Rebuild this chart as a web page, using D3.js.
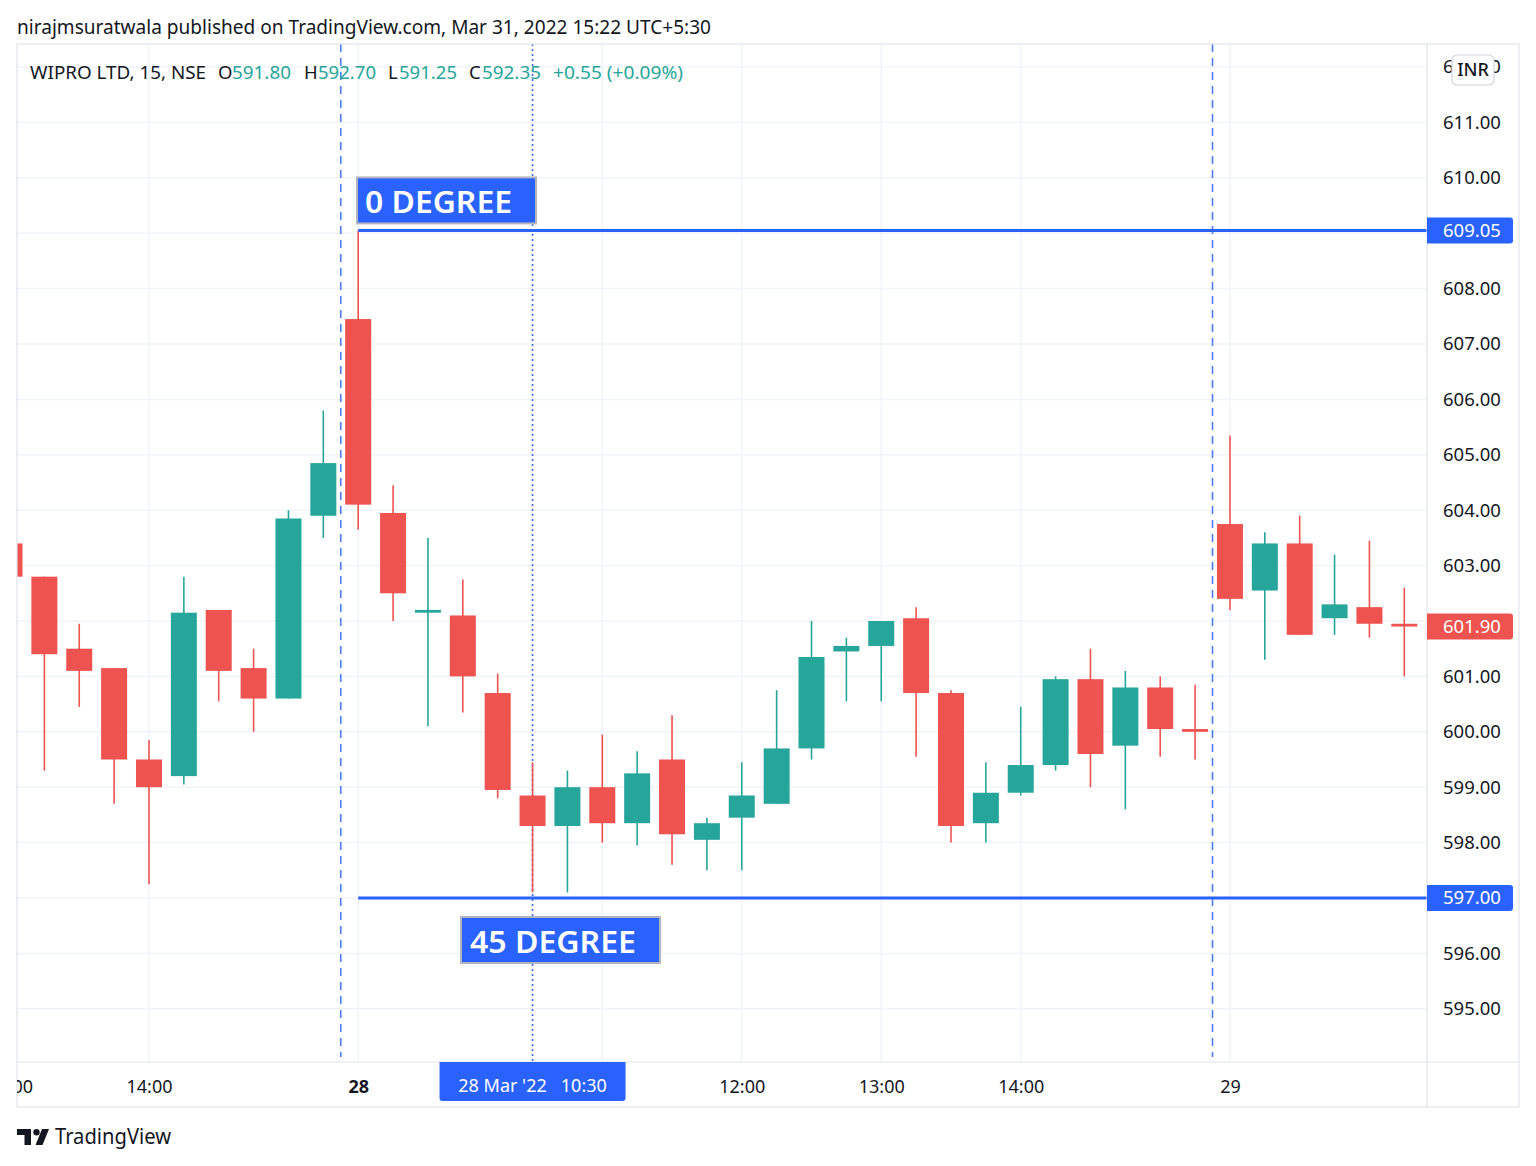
<!DOCTYPE html>
<html><head><meta charset="utf-8">
<script src="https://cdn.jsdelivr.net/npm/d3@7"></script>
<style>
body{margin:0;background:#fff;}
svg{display:block;font-family:"Noto Sans",sans-serif;}
</style>
</head><body>
<svg id="c" width="1536" height="1166"></svg>
<script>
// ---------- data ----------
const candleTimes = ["25 13:00","13:15","13:30","13:45","14:00","14:15","14:30","14:45","15:00","15:15",
 "28 09:15","09:30","09:45","10:00","10:15","10:30","10:45","11:00","11:15","11:30","11:45","12:00","12:15","12:30","12:45",
 "13:00","13:15","13:30","13:45","14:00","14:15","14:30","14:45","15:00","15:15",
 "29 09:15","09:30","09:45","10:00","10:15","10:30"];
const opens  = [603.40,602.80,601.50,601.15,599.50,599.20,602.20,601.15,600.60,603.90,
 607.45,603.95,602.15,602.10,600.70,598.85,598.30,599.00,598.35,599.50,598.05,598.45,598.70,599.70,601.45,
 601.55,602.05,600.70,598.35,598.90,599.40,600.95,599.75,600.80,600.05,
 603.75,602.55,603.40,602.05,602.25,601.95];
const highs  = [603.40,602.80,601.95,601.15,599.85,602.80,602.20,601.50,604.00,605.80,
 609.05,604.45,603.50,602.75,601.05,599.45,599.30,599.95,599.65,600.30,598.45,599.45,600.75,602.00,601.70,
 602.00,602.25,600.75,599.45,600.45,601.00,601.50,601.10,601.00,600.85,
 605.35,603.60,603.90,603.20,603.45,602.60];
const lows   = [602.80,599.30,600.45,598.70,597.25,599.05,600.55,600.00,600.60,603.50,
 603.65,602.00,600.10,600.35,598.80,597.10,597.10,598.00,597.95,597.60,597.50,597.50,598.70,599.50,600.55,
 600.55,599.55,598.00,598.00,598.85,599.30,599.00,598.60,599.55,599.50,
 602.20,601.30,601.75,601.75,601.70,601.00];
const closes = [602.80,601.40,601.10,599.50,599.00,602.15,601.10,600.60,603.85,604.85,
 604.10,602.50,602.20,601.00,598.95,598.30,599.00,598.35,599.25,598.15,598.35,598.85,599.70,601.35,601.55,
 602.00,600.70,598.30,598.90,599.40,600.95,599.60,600.80,600.05,600.00,
 602.40,603.40,601.75,602.30,601.95,601.90];
const gridPrices = [595,596,597,598,599,600,601,602,603,604,605,606,607,608,609,610,611,612];
const priceTicks = [595,596,597,598,599,600,601,603,604,605,606,607,608,610,611,612];
const gridTimeIdx    = [0, 4, 10, 17, 21, 25, 29, 35];
const timeTickIdx    = [0, 4, 10, 21, 25, 29, 35];
const timeTickLabels = ["13:00","14:00","28","12:00","13:00","14:00","29"];
const levelPrices = [609.05, 597.00];
const levelLabels = ["0 DEGREE", "45 DEGREE"];
const lastPrice = 601.90;
const crosshairIdx = 15;
const crosshairLabel = "28 Mar '22   10:30";
const headerText = "nirajmsuratwala published on TradingView.com, Mar 31, 2022 15:22 UTC+5:30";
const legendParts = [
  {t:"WIPRO LTD, 15, NSE", c:"k"},{t:"O", c:"k"},{t:"591.80", c:"g"},{t:"H", c:"k"},{t:"592.70", c:"g"},
  {t:"L", c:"k"},{t:"591.25", c:"g"},{t:"C", c:"k"},{t:"592.35", c:"g"},{t:"+0.55 (+0.09%)", c:"g"}];
const legendX = [30,218,232,304,318,388,399,469,482,553];
const legendW = [176,0,59,0,58,0,58,0,59,130];

// ---------- layout ----------
const W = 1536, H = 1166;
const L = 17, R = 1427, T = 44, B = 1062, AXR = 1519, TAB = 1107;
const UP = "#26a69a", DN = "#ef5350", BLUE = "#2962ff", TXT = "#131722", GRID = "#f0f3fa", BORDER = "#e0e3eb";

const svg = d3.select("#c");
const x = d3.scaleLinear().domain([0, 40]).range([9.5, 1404.3]);
const y = d3.scaleLinear().domain([597, 611]).range([898, 122.4]);

svg.append("rect").attr("width", W).attr("height", H).attr("fill", "#fff");

const defs = svg.append("defs");
defs.append("clipPath").attr("id","plotclip").append("rect").attr("x",L).attr("y",T).attr("width",R-L).attr("height",B-T);
defs.append("clipPath").attr("id","timeclip").append("rect").attr("x",L).attr("y",B).attr("width",R-L).attr("height",TAB-B);

// header
svg.append("text").attr("x", 17).attr("y", 34).attr("font-size", 19).attr("fill", TXT)
  .attr("textLength", 694).attr("lengthAdjust","spacingAndGlyphs").text(headerText);

// grid
const plot = svg.append("g").attr("clip-path","url(#plotclip)");
plot.selectAll("line.hg").data(gridPrices).join("line")
  .attr("x1", L).attr("x2", R).attr("y1", d=>y(d)).attr("y2", d=>y(d))
  .attr("stroke", GRID).attr("stroke-width", 1.5);
plot.selectAll("line.vg").data(gridTimeIdx).join("line")
  .attr("x1", d=>x(d)).attr("x2", d=>x(d)).attr("y1", T).attr("y2", B)
  .attr("stroke", GRID).attr("stroke-width", 1.5);

// session breaks (dashed)
const breaks = [9.5, 34.5];
plot.selectAll("line.sb").data(breaks).join("line")
  .attr("x1", d=>x(d)).attr("x2", d=>x(d)).attr("y1", T).attr("y2", B-5)
  .attr("stroke", "#4d7dff").attr("stroke-width", 1.6).attr("stroke-dasharray","8,6");

// crosshair dotted
plot.append("line").attr("x1", x(crosshairIdx)).attr("x2", x(crosshairIdx)).attr("y1", T).attr("y2", B)
  .attr("stroke", "#3d6bff").attr("stroke-width", 1.6).attr("stroke-dasharray","2,3");

// candles
const idx = d3.range(opens.length);
const bw = 26;
const cg = plot.append("g");
cg.selectAll("line.wick").data(idx).join("line")
  .attr("x1", i=>x(i)).attr("x2", i=>x(i)).attr("y1", i=>y(highs[i])).attr("y2", i=>y(lows[i]))
  .attr("stroke", i=> closes[i] >= opens[i] ? UP : DN).attr("stroke-width", 1.6);
cg.selectAll("rect.body").data(idx).join("rect")
  .attr("x", i=>x(i)-bw/2).attr("width", bw)
  .attr("y", i=>Math.min(y(opens[i]), y(closes[i])))
  .attr("height", i=>Math.max(2.5, Math.abs(y(opens[i])-y(closes[i]))))
  .attr("fill", i=> closes[i] >= opens[i] ? UP : DN);

// level lines
plot.selectAll("line.lvl").data(levelPrices).join("line")
  .attr("x1", x(10)).attr("x2", R).attr("y1", d=>y(d)).attr("y2", d=>y(d))
  .attr("stroke", BLUE).attr("stroke-width", 3);

// level label boxes
const boxes = [
  {x: 357, y: y(levelPrices[0]) - 53, w: 179, h: 46, tx: 365, ty: y(levelPrices[0]) - 17, tl: 147},
  {x: 461, y: y(levelPrices[1]) + 19, w: 199, h: 46, tx: 470, ty: y(levelPrices[1]) + 55, tl: 166}
];
boxes.forEach((b, k) => {
  svg.append("rect").attr("x", b.x).attr("y", b.y).attr("width", b.w).attr("height", b.h)
    .attr("fill", BLUE).attr("stroke", "#b2b5be").attr("stroke-width", 2);
  svg.append("text").attr("x", b.tx).attr("y", b.ty).attr("font-size", 31).attr("font-weight", 600)
    .attr("fill", "#fff").attr("textLength", b.tl).attr("lengthAdjust","spacingAndGlyphs").text(levelLabels[k]);
});

// legend
legendParts.forEach((p, k) => {
  const t = svg.append("text").attr("x", legendX[k]).attr("y", 79).attr("font-size", 18.5)
    .attr("fill", p.c === "g" ? UP : TXT).text(p.t);
  if (legendW[k]) t.attr("textLength", legendW[k]).attr("lengthAdjust","spacingAndGlyphs");
});

// frame
const fr = svg.append("g").attr("stroke", BORDER).attr("stroke-width", 1.2).attr("fill","none");
fr.append("rect").attr("x", L).attr("y", T).attr("width", AXR-L).attr("height", TAB-T);
fr.append("line").attr("x1", R).attr("x2", R).attr("y1", T).attr("y2", TAB);
fr.append("line").attr("x1", L).attr("x2", AXR).attr("y1", B).attr("y2", B);

// price axis
const yAxis = d3.axisRight(y).tickValues(priceTicks).tickSize(0).tickPadding(0).tickFormat(d3.format(".2f"));
const ya = svg.append("g").attr("transform", `translate(${R+16},0)`).call(yAxis);
ya.select(".domain").remove();
ya.selectAll("text").attr("font-size", 18.5).attr("fill", TXT).attr("font-family","Noto Sans, sans-serif").attr("x", 0);

// time axis
const xAxis = d3.axisBottom(x).tickValues(timeTickIdx).tickSize(0).tickPadding(0)
  .tickFormat((d, k) => timeTickLabels[k]);
const xa = svg.append("g").attr("clip-path","url(#timeclip)").append("g").attr("transform", `translate(0,${B+18})`).call(xAxis);
xa.select(".domain").remove();
xa.selectAll("text").attr("font-size", 18).attr("fill", TXT).attr("font-family","Noto Sans, sans-serif")
  .attr("dy", "0.71em").attr("y", 0)
  .attr("font-weight", (d) => d === 10 ? 700 : 400);

// crosshair time label
const cx = x(crosshairIdx);
svg.append("path").attr("d", `M${cx-93},${B} H${cx+93} V${B+36} q0,3 -3,3 H${cx-90} q-3,0 -3,-3 Z`).attr("fill", BLUE);
svg.append("text").attr("x", cx).attr("y", B+30).attr("text-anchor","middle").attr("font-size",18)
  .attr("fill","#fff").attr("xml:space","preserve").style("white-space","pre").text(crosshairLabel);

// price labels (levels + last)
const plabs = [{v: levelPrices[0], c: BLUE}, {v: levelPrices[1], c: BLUE}, {v: lastPrice, c: DN}];
plabs.forEach(p => {
  const yy = y(p.v);
  svg.append("path").attr("d", `M${R},${yy-13} H${R+83} q3,0 3,3 V${yy+10} q0,3 -3,3 H${R} Z`).attr("fill", p.c);
  svg.append("text").attr("x", R+16).attr("y", yy).attr("dy","0.35em").attr("font-size",18.5).attr("fill","#fff")
    .text(d3.format(".2f")(p.v));
});

// INR badge
svg.append("rect").attr("x", 1452).attr("y", 55).attr("width", 42).attr("height", 30).attr("rx", 5)
  .attr("fill", "#fff").attr("stroke", "#d1d4dc").attr("stroke-width", 1.2);
svg.append("text").attr("x", 1473).attr("y", 70).attr("dy","0.35em").attr("text-anchor","middle")
  .attr("font-size", 18).attr("font-weight", 500).attr("fill", TXT).text("INR");

// TradingView logo
const lg = svg.append("g").attr("fill", TXT);
lg.append("path").attr("d", "M17,1129 H31 V1145 H24.5 V1135 H17 Z");
lg.append("circle").attr("cx", 36.5).attr("cy", 1132.3).attr("r", 3.2);
lg.append("path").attr("d", "M42,1129 H49 L42.5,1145 H35.5 Z");
svg.append("text").attr("x", 55).attr("y", 1144).attr("font-size", 21).attr("fill", TXT)
  .attr("textLength", 116).attr("lengthAdjust","spacingAndGlyphs").text("TradingView");
</script>
</body></html>
